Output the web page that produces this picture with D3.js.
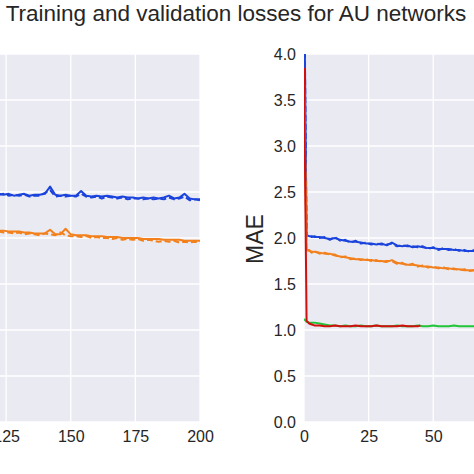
<!DOCTYPE html>
<html>
<head>
<meta charset="utf-8">
<script src="https://cdn.jsdelivr.net/npm/d3@7"></script>
<style>
  html, body { margin: 0; padding: 0; background: #fff; }
  svg { display: block; font-family: "Liberation Sans", Arial, sans-serif; }
</style>
</head>
<body>
<div id="container"></div>
<script>
const title = "Training and validation losses for AU networks";
const yLabel = "MAE";
const xTicks = [0, 25, 50, 75, 100, 125, 150, 175, 200];
const yTicks = [0, 0.5, 1, 1.5, 2, 2.5, 3, 3.5, 4];

// left panel (visible part only, epochs 122..200)
const epochsL = d3.range(122, 201, 2);
const blueTrainL = [2.48,2.47,2.48,2.46,2.47,2.48,2.46,2.47,2.47,2.48,2.56,2.47,2.46,2.47,2.46,2.46,2.51,2.46,2.45,2.46,
  2.45,2.46,2.45,2.44,2.45,2.44,2.44,2.43,2.44,2.43,2.44,2.43,2.44,2.46,2.43,2.44,2.48,2.43,2.42,2.42];
const blueValL = [2.47,2.48,2.46,2.47,2.46,2.47,2.45,2.46,2.46,2.49,2.52,2.45,2.46,2.45,2.46,2.45,2.48,2.45,2.44,2.45,
  2.43,2.45,2.44,2.43,2.44,2.42,2.43,2.43,2.42,2.43,2.42,2.43,2.42,2.44,2.42,2.43,2.45,2.41,2.42,2.41];
const orangeTrainL = [2.08,2.08,2.07,2.07,2.07,2.06,2.06,2.05,2.05,2.05,2.09,2.04,2.04,2.10,2.04,2.03,2.03,2.03,2.02,2.02,
  2.02,2.01,2.01,2.01,2.00,2.00,2.00,2.00,1.99,1.99,1.99,1.99,1.98,1.98,1.98,1.98,1.97,1.97,1.97,1.97];
const orangeValL = [2.07,2.06,2.06,2.05,2.06,2.04,2.05,2.04,2.03,2.05,2.04,2.03,2.06,2.03,2.02,2.02,2.01,2.02,2.00,2.01,
  2.00,2.00,1.99,2.00,1.98,1.99,1.98,1.99,1.97,1.98,1.97,1.96,1.97,1.96,1.97,1.95,1.96,1.95,1.96,1.95];

// right panel (visible part, epochs 0..70)
const epochsR = [0, 1, 2, 3, 4, ...d3.range(6, 71, 2)];
const blueTrainR = [5.0,2.03,2.02,2.02,2.01,2.01,2.00,1.99,2.00,1.98,1.97,1.96,1.96,1.95,1.94,1.94,1.93,1.94,1.92,1.95,
  1.92,1.91,1.92,1.90,1.91,1.90,1.89,1.89,1.88,1.88,1.88,1.87,1.87,1.86,1.86,1.86,1.85,1.85];
const blueValR = [5.0,2.02,2.03,2.01,2.02,2.00,2.01,1.98,2.01,1.97,1.98,1.95,1.97,1.94,1.95,1.93,1.94,1.93,1.93,1.94,
  1.91,1.92,1.91,1.91,1.90,1.91,1.88,1.90,1.87,1.89,1.87,1.88,1.86,1.87,1.85,1.87,1.84,1.86];
const orangeTrainR = [3.7,1.87,1.86,1.85,1.85,1.84,1.83,1.83,1.81,1.80,1.79,1.78,1.77,1.77,1.76,1.76,1.75,1.75,1.74,1.76,
  1.73,1.72,1.71,1.71,1.70,1.69,1.69,1.68,1.68,1.67,1.67,1.66,1.66,1.65,1.65,1.65,1.64,1.64];
const orangeValR = [3.7,1.86,1.87,1.84,1.86,1.83,1.84,1.82,1.82,1.79,1.80,1.77,1.78,1.76,1.77,1.75,1.76,1.74,1.75,1.75,
  1.72,1.73,1.70,1.72,1.69,1.70,1.68,1.69,1.67,1.68,1.66,1.67,1.65,1.66,1.64,1.65,1.63,1.65];
const greenTrainR = [1.12,1.09,1.08,1.08,1.08,1.07,1.06,1.05,1.05,1.04,1.05,1.04,1.04,1.05,1.04,1.04,1.05,1.04,1.04,1.04,
  1.05,1.04,1.04,1.04,1.05,1.04,1.04,1.05,1.04,1.04,1.04,1.05,1.04,1.04,1.04,1.04,1.05,1.04];
const epochsRed = [0, 1, 2, 3, 4, ...d3.range(6, 45, 2), 45];
const redTrainR = [3.85,1.10,1.07,1.06,1.05,1.05,1.04,1.04,1.05,1.04,1.04,1.04,1.05,1.04,1.04,1.04,1.05,1.04,1.04,1.04,
  1.04,1.05,1.04,1.04,1.04,1.05];

const colors = { blue: "#1b44dc", orange: "#f2801c", green: "#22c53a", red: "#d0100f" };

const setAttrs = (el, attrs) =>
  Object.entries(attrs).reduce((acc, [key, val]) => acc.attr(key, val), el);

const W = 474, H = 474;
const plotTop = 54, plotBottom = 422;

const svg = d3.select("#container").append("svg");
setAttrs(svg, { width: W, height: H, viewBox: `0 0 ${W} ${H}` });
const defs = svg.append("defs");

const y = d3.scaleLinear().domain([0, 4]).range([plotBottom, plotTop]);

function panel(id, x0, x1, series, opts) {
  const x = d3.scaleLinear().domain([0, 200]).range([x0, x1]);
  const g = svg.append("g");

  const clip = defs.append("clipPath").attr("id", id);
  setAttrs(clip.append("rect"), { x: x0, y: plotTop, width: x1 - x0, height: plotBottom - plotTop });

  setAttrs(g.append("rect"), { x: x0, y: plotTop, width: x1 - x0, height: plotBottom - plotTop, fill: "#eaeaf2" });

  g.append("g").selectAll("line").data(xTicks).join("line")
    .attr("x1", (d) => x(d)).attr("x2", (d) => x(d))
    .attr("y1", plotTop).attr("y2", plotBottom)
    .attr("stroke", "#fff").attr("stroke-width", 1.3);
  g.append("g").selectAll("line").data(yTicks).join("line")
    .attr("x1", x0).attr("x2", x1)
    .attr("y1", (d) => y(d)).attr("y2", (d) => y(d))
    .attr("stroke", "#fff").attr("stroke-width", 1.3);

  const lines = g.append("g").attr("clip-path", `url(#${id})`);
  series.forEach((s) => {
    const line = d3.line().x((d, i) => x(s.epochs[i])).y((d) => y(d));
    setAttrs(lines.append("path").datum(s.values), {
      d: line,
      fill: "none",
      stroke: s.color,
      "stroke-width": 2,
      "stroke-linejoin": "round",
      "stroke-dasharray": s.dashed ? "6,3" : null
    });
  });

  // only the tick labels that fall inside the cropped figure
  const xAxis = g.append("g").attr("transform", `translate(0,${plotBottom})`)
    .call(d3.axisBottom(x).tickValues(xTicks.filter((d) => x(d) > -10 && x(d) < W + 10))
      .tickSize(0).tickPadding(9));
  const axes = [xAxis];
  if (opts.yLabels) {
    axes.push(g.append("g").attr("transform", `translate(${x0},0)`)
      .call(d3.axisLeft(y).tickValues(yTicks).tickFormat(d3.format(".1f")).tickSize(0).tickPadding(8)));
  }
  axes.forEach((a) => {
    a.select(".domain").remove();
    a.selectAll("text").attr("font-size", 16).attr("fill", "#262626")
      .attr("font-family", "Liberation Sans, Arial, sans-serif");
  });
  return g;
}

panel("clipL", -317, 200, [
  { epochs: epochsL, values: blueTrainL, color: colors.blue },
  { epochs: epochsL, values: blueValL, color: colors.blue, dashed: true },
  { epochs: epochsL, values: orangeTrainL, color: colors.orange },
  { epochs: epochsL, values: orangeValL, color: colors.orange, dashed: true }
], { yLabels: false });

panel("clipR", 304, 821, [
  { epochs: epochsR, values: blueTrainR, color: colors.blue },
  { epochs: epochsR, values: blueValR, color: colors.blue, dashed: true },
  { epochs: epochsR, values: orangeTrainR, color: colors.orange },
  { epochs: epochsR, values: orangeValR, color: colors.orange, dashed: true },
  { epochs: epochsR, values: greenTrainR, color: colors.green },
  { epochs: epochsRed, values: redTrainR, color: colors.red }
], { yLabels: true });

setAttrs(svg.append("text").text(yLabel), {
  transform: "translate(263,239) rotate(-90)",
  "text-anchor": "middle",
  "font-size": 23,
  fill: "#262626"
});

setAttrs(svg.append("text").text(title), {
  x: 236,
  y: 21,
  "text-anchor": "middle",
  "font-size": 22.5,
  fill: "#262626"
});
</script>
</body>
</html>
